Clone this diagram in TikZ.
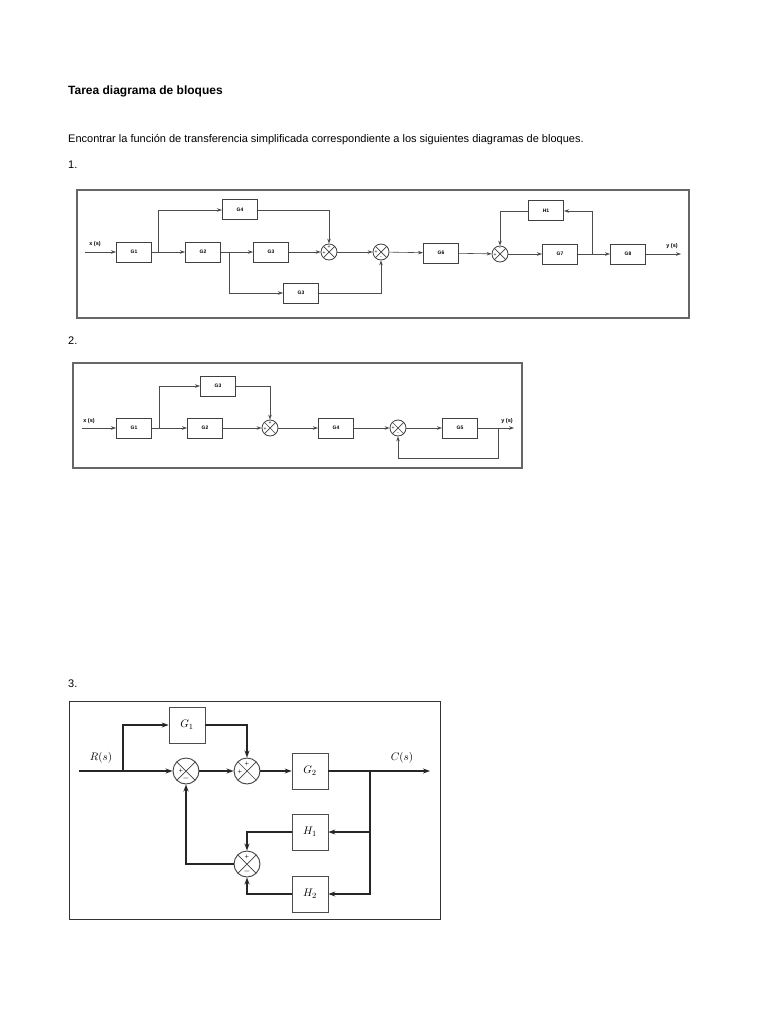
\documentclass[tikz,border=0pt]{standalone}
\usepackage{fontspec}
\setmainfont{Liberation Serif}
\newfontfamily\bodyf{Liberation Sans}
\usetikzlibrary{arrows.meta}
\begin{document}
\begin{tikzpicture}[x=1pt,y=-1pt,
  blk/.style={draw=black!75,line width=1pt,minimum width=35pt,minimum height=20pt,inner sep=0pt,font=\bodyf\bfseries\fontsize{5}{6}\selectfont},
  sm/.style={draw=black!75,line width=0.8pt,circle,minimum size=16pt,inner sep=0pt,
    path picture={\draw[black!75,line width=0.7pt] (path picture bounding box.south west)--(path picture bounding box.north east) (path picture bounding box.north west)--(path picture bounding box.south east);}},
  ln/.style={draw=black!70,line width=0.6pt},
  ar/.style={ln,-{Stealth[length=5pt,width=3.5pt]}},
  sg/.style={font=\bodyf\fontsize{5}{5}\selectfont,inner sep=0pt},
  tk/.style={draw=black!85,line width=1.6pt},
  tka/.style={tk,-{Stealth[length=7pt,width=5pt]}},
  bb/.style={draw=black!70,line width=0.7pt,minimum width=36pt,minimum height=36pt,inner sep=0pt,font=\fontsize{11}{12}\selectfont},
  sb/.style={draw=black!75,line width=0.9pt,circle,minimum size=26pt,inner sep=0pt,
    path picture={\draw[black!75,line width=0.7pt] (path picture bounding box.south west)--(path picture bounding box.north east) (path picture bounding box.north west)--(path picture bounding box.south east);}},
  sg3/.style={font=\fontsize{8}{8}\selectfont,inner sep=0pt},
  txt/.style={anchor=west,inner sep=0pt,font=\bodyf\fontsize{11}{13}\selectfont}]
\useasboundingbox[fill=white] (0,0) rectangle (768,1024);
\node[txt,font=\bodyf\bfseries\fontsize{12}{14}\selectfont] (t) at (68,91) {Tarea diagrama de bloques};
\node[txt] (s) at (68,140) {Encontrar la función de transferencia simplificada correspondiente a los siguientes diagramas de bloques.};
\node[txt] (n1) at (68,165) {1.};
\node[txt] (n2) at (68,341) {2.};
\node[txt] (n3) at (68,684) {3.};
% ---------- diagram 1
\draw[draw=black!60,line width=1.2pt] (77,190) rectangle (689,318);
\node[blk] (a1) at (134,252) {G1};
\node[blk] (a2) at (203,252) {G2};
\node[blk] (a3) at (271,252) {G3};
\node[blk] (a4) at (240,210) {G4};
\node[blk] (a5) at (301,293) {G3};
\node[sm] (s1) at (329,252) {};
\node[sm] (s2) at (381,252) {};
\node[blk] (a6) at (441,253) {G6};
\node[sm] (s3) at (500,254) {};
\node[blk] (a7) at (560,254) {G7};
\node[blk] (a8) at (628,254) {G8};
\node[blk] (h1) at (546,211) {H1};
\coordinate (xin) at (85,252); \coordinate (yout) at (681,254);
\node[sg,font=\bodyf\bfseries\fontsize{5.5}{6}\selectfont] (xl) at (95,244) {x (s)};
\node[sg,font=\bodyf\bfseries\fontsize{5.5}{6}\selectfont] (yl) at (672,246) {y (s)};
\draw[ar] (xin)--(a1);
\draw[ar] (a1)--(a2);
\draw[ar] (a1.east)++(6,0) |- (a4);
\draw[ar] (a2)--(a3);
\draw[ar] (a2.east)++(8,0) |- (a5);
\draw[ar] (a3)--(s1);
\draw[ar] (a4) -| (s1);
\draw[ar] (s1)--(s2);
\draw[ar] (a5) -| (s2);
\draw[ar] (s2)--(a6);
\draw[ar] (a6)--(s3);
\draw[ar] (s3)--(a7);
\draw[ar] (a7)--(a8);
\draw[ar] (a8)--(yout);
\draw[ar] (a7.east)++(14,0) |- (h1);
\draw[ar] (h1) -| (s3);
\node[sg] at (329,247) {+}; \node[sg] at (324,253) {+};
\node[sg] at (376,252) {+}; \node[sg] at (381,258) {-};
\node[sg] at (500,249) {-}; \node[sg] at (495,255) {+};
% ---------- diagram 2
\draw[draw=black!60,line width=1.2pt] (73,363) rectangle (522,468);
\node[blk] (b1) at (134,428) {G1};
\node[blk] (b2) at (205,428) {G2};
\node[blk] (b3) at (218,386) {G3};
\node[sm] (t1) at (270,428) {};
\node[blk] (b4) at (336,428) {G4};
\node[sm] (t2) at (398,428) {};
\node[blk] (b5) at (460,428) {G5};
\coordinate (xin2) at (82,428); \coordinate (yout2) at (514,428);
\node[sg,font=\bodyf\bfseries\fontsize{5.5}{6}\selectfont] (xl2) at (89,421) {x (s)};
\node[sg,font=\bodyf\bfseries\fontsize{5.5}{6}\selectfont] (yl2) at (507,421) {y (s)};
\draw[ar] (xin2)--(b1);
\draw[ar] (b1)--(b2);
\draw[ar] (b1.east)++(7,0) |- (b3);
\draw[ar] (b2)--(t1);
\draw[ar] (b3) -| (t1);
\draw[ar] (t1)--(b4);
\draw[ar] (b4)--(t2);
\draw[ar] (t2)--(b5);
\draw[ar] (b5)--(yout2);
\draw[ar] (b5.east)++(20,0) |- (398,458) -- (t2);
\node[sg] at (270,423) {+}; \node[sg] at (265,429) {+};
\node[sg] at (393,428) {+}; \node[sg] at (398,434) {-};
% ---------- diagram 3
\draw[draw=black!80,line width=0.8pt] (69,701) rectangle (440,919);
\node[bb] (g1) at (187,725) {$G_1$};
\node[bb] (g2) at (310,771) {$G_2$};
\node[bb] (hh1) at (310,832) {$H_1$};
\node[bb] (hh2) at (310,894) {$H_2$};
\node[sb] (u1) at (186,771) {};
\node[sb] (u2) at (247,771) {};
\node[sb] (u3) at (247,864) {};
\coordinate (rin) at (79,771); \coordinate (cout) at (430,771);
\node (rl) at (101,758) {\fontsize{11}{12}\selectfont$R(s)$};
\node (cl) at (402,758) {\fontsize{11}{12}\selectfont$C(s)$};
\draw[tka] (rin)--(u1);
\draw[tka] (123,771) |- (g1);
\draw[tka] (g1) -| (u2);
\draw[tka] (u1)--(u2);
\draw[tka] (u2)--(g2);
\draw[tka] (g2)--(cout);
\draw[tka] (370,771) |- (hh1);
\draw[tka] (370,771) |- (hh2);
\draw[tka] (hh1) -| (u3);
\draw[tka] (hh2) -| (u3);
\draw[tka] (u3) -| (u1);
\node[sg3] at (181,771) {+}; \node[sg3] at (186,778) {$-$};
\node[sg3] at (247,764) {+}; \node[sg3] at (240,772) {+};
\node[sg3] at (247,857) {+}; \node[sg3] at (247,871) {$-$};
\end{tikzpicture}
\end{document}
